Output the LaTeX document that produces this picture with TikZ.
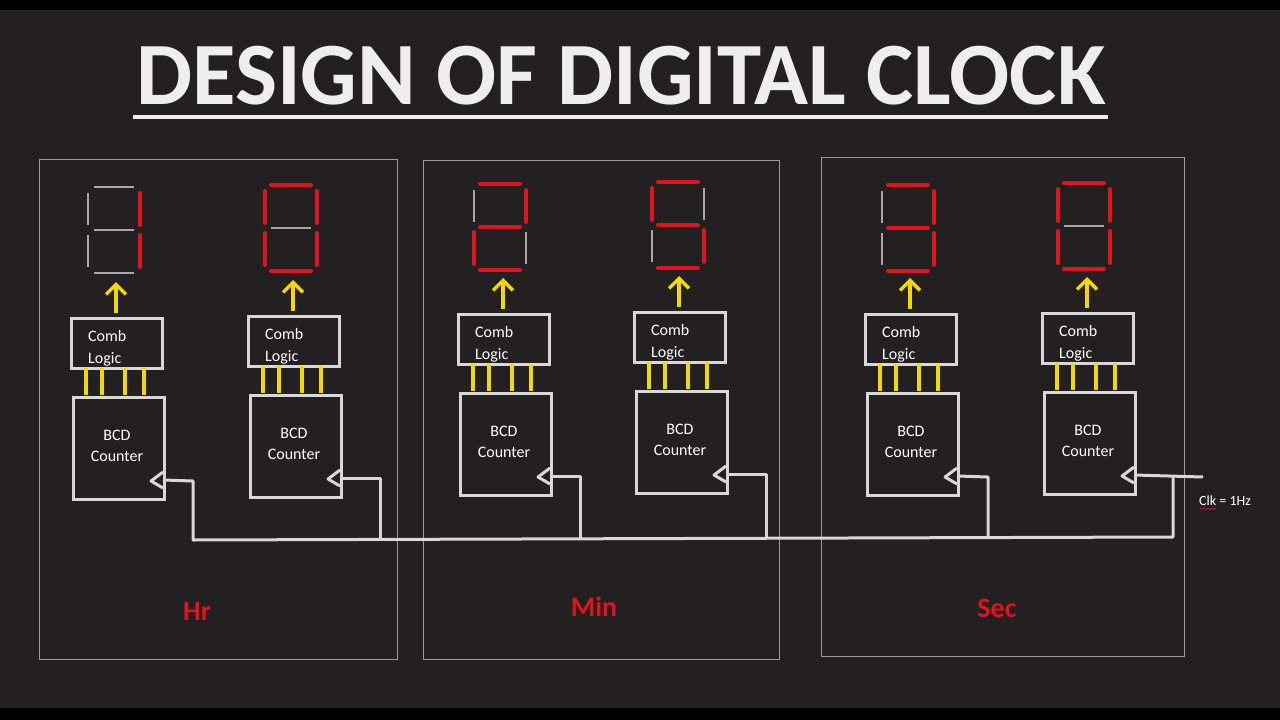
\documentclass[tikz,border=0pt]{standalone}
\usepackage{fontspec}
\setmainfont{Carlito}
\begin{document}
\begin{tikzpicture}[x=1pt,y=-1pt,
  segR/.style={draw=segred,line width=4pt,line cap=round},
  segG/.style={draw=seggrey,line width=1.2pt},
  boxw/.style={draw=boxgrey,line width=3pt},
  panel/.style={draw=panelgrey,line width=1pt},
  wire/.style={draw=boxgrey,line width=3pt,line join=round},
  ywire/.style={draw=yel,line width=3.5pt},
  yarrow/.style={draw=yel,line width=3.5pt,-{Straight Barb[length=10pt,width=20pt]}},
  lab/.style={text=white,font=\fontsize{16}{16}\selectfont,inner sep=0pt},
  unit/.style={text=segred,font=\bfseries\fontsize{28}{28}\selectfont}]
\definecolor{bg}{HTML}{222020}
\definecolor{segred}{HTML}{E0141E}
\definecolor{seggrey}{HTML}{A8A8A8}
\definecolor{boxgrey}{HTML}{D8D8D8}
\definecolor{panelgrey}{HTML}{9A9A9A}
\definecolor{yel}{HTML}{F5D800}
\definecolor{titlec}{HTML}{EEEEEE}
\usetikzlibrary{arrows.meta}
\fill[black] (0,0) rectangle (1280,720);
\fill[bg] (0,10) rectangle (1280,708);
\useasboundingbox (0,0) rectangle (1280,720);
% title
\node[text=titlec,font=\bfseries\fontsize{89}{89}\selectfont,inner sep=0pt] (title) at (621,76) {DESIGN OF DIGITAL CLOCK};
\draw[titlec,line width=4pt] (133,117) -- (1108,117);
% panels
\draw[panel] (39,159) rectangle (397,659);
\draw[panel] (423,160) rectangle (779,659);
\draw[panel] (821,157) rectangle (1184,656);
% digit: #1 x0, #2 top, #3..#9 styles a b c d e f g
\newcommand\mydigit[9]{%
  \pgfmathsetmacro\xa{#1}\pgfmathsetmacro\xb{#1+52}%
  \pgfmathsetmacro\ya{#2}\pgfmathsetmacro\ym{#2+43}\pgfmathsetmacro\yb{#2+86}%
  \draw[#3] (\xa+6,\ya) -- (\xb-6,\ya);
  \draw[#4] (\xb,\ya+6) -- (\xb,\ym-5);
  \draw[#5] (\xb,\ym+5) -- (\xb,\yb-6);
  \draw[#6] (\xa+6,\yb) -- (\xb-6,\yb);
  \draw[#7] (\xa,\ym+5) -- (\xa,\yb-6);
  \draw[#8] (\xa,\ya+6) -- (\xa,\ym-5);
  \draw[#9] (\xa+6,\ym) -- (\xb-6,\ym);}
% module: #1 name, #2 cx, #3 cy
\newcommand\mymodule[3]{%
  \node[boxw,minimum width=91pt,minimum height=50pt,anchor=north west,inner sep=0pt] (#1c) at (#2,#3) {};
  \node[lab,anchor=base west] (#1t1) at (#2+18,#3+24) {Comb};
  \node[lab,anchor=base west] (#1t2) at (#2+18,#3+46) {Logic};
  \node[boxw,minimum width=91pt,minimum height=102pt,anchor=north west,inner sep=0pt] (#1b) at (#2+2,#3+79) {};
  \node[lab,anchor=base] (#1t3) at (#2+47,#3+123) {BCD};
  \node[lab,anchor=base] (#1t4) at (#2+47,#3+144) {Counter};
  \coordinate (#1d) at (#2+46,#3-35);
  \draw[yarrow] (#1c.north -| #1d) ++(0,-4) -- (#1d);
  \foreach \dx in {16,32,55,74} \draw[ywire] (#2+\dx,#3+51) -- (#2+\dx,#3+78);
  \coordinate (#1k) at (#2+93,#3+163);
  \draw[boxgrey,line width=3pt,line join=round] (#2+93,#3+155) -- (#2+81,#3+164) -- (#2+93,#3+171);
}
\mymodule{h1}{70}{317}
\mymodule{h0}{247}{315}
\mymodule{m1}{457}{313}
\mymodule{m0}{633}{311}
\mymodule{s1}{864}{313}
\mymodule{s0}{1041}{312}
\mydigit{88}{187}{segG}{segR}{segR}{segG}{segG}{segG}{segG}
\mydigit{265}{185}{segR}{segR}{segR}{segR}{segR}{segR}{segG}
\mydigit{474}{184}{segR}{segR}{segG}{segR}{segR}{segG}{segR}
\mydigit{652}{182}{segR}{segG}{segR}{segR}{segG}{segR}{segR}
\mydigit{882}{185}{segR}{segR}{segR}{segR}{segG}{segG}{segR}
\mydigit{1058}{183}{segR}{segR}{segR}{segR}{segR}{segR}{segG}
% clock wiring
\coordinate (clkin) at (1203,477);
\coordinate (j6) at (1173,477);
\draw[wire] (h1k) -- (193,481) -- (193,540) -- (1173,537) -- (j6);
\draw[wire] (clkin) -- (s0k);
\draw[wire] (h0k) -- (380,478) -- (380,539);
\draw[wire] (m1k) -- (580,476) -- (580,538);
\draw[wire] (m0k) -- (766,474) -- (766,537);
\draw[wire] (s1k) -- (988,477) -- (988,538);
\node[text=white,font=\fontsize{14}{14}\selectfont,anchor=west,inner sep=0pt] (clk) at (1199,501) {Clk = 1Hz};
\draw[segred,line width=0.8pt] (1200,508) -- ++(2,1.5) -- ++(2,-1.5) -- ++(2,1.5) -- ++(2,-1.5) -- ++(2,1.5) -- ++(2,-1.5) -- ++(2,1.5) -- ++(2,-1.5);
% labels
\node[unit] (hr) at (197,611) {Hr};
\node[unit] (min) at (594,607) {Min};
\node[unit] (sec) at (997,608) {Sec};
\end{tikzpicture}
\end{document}
